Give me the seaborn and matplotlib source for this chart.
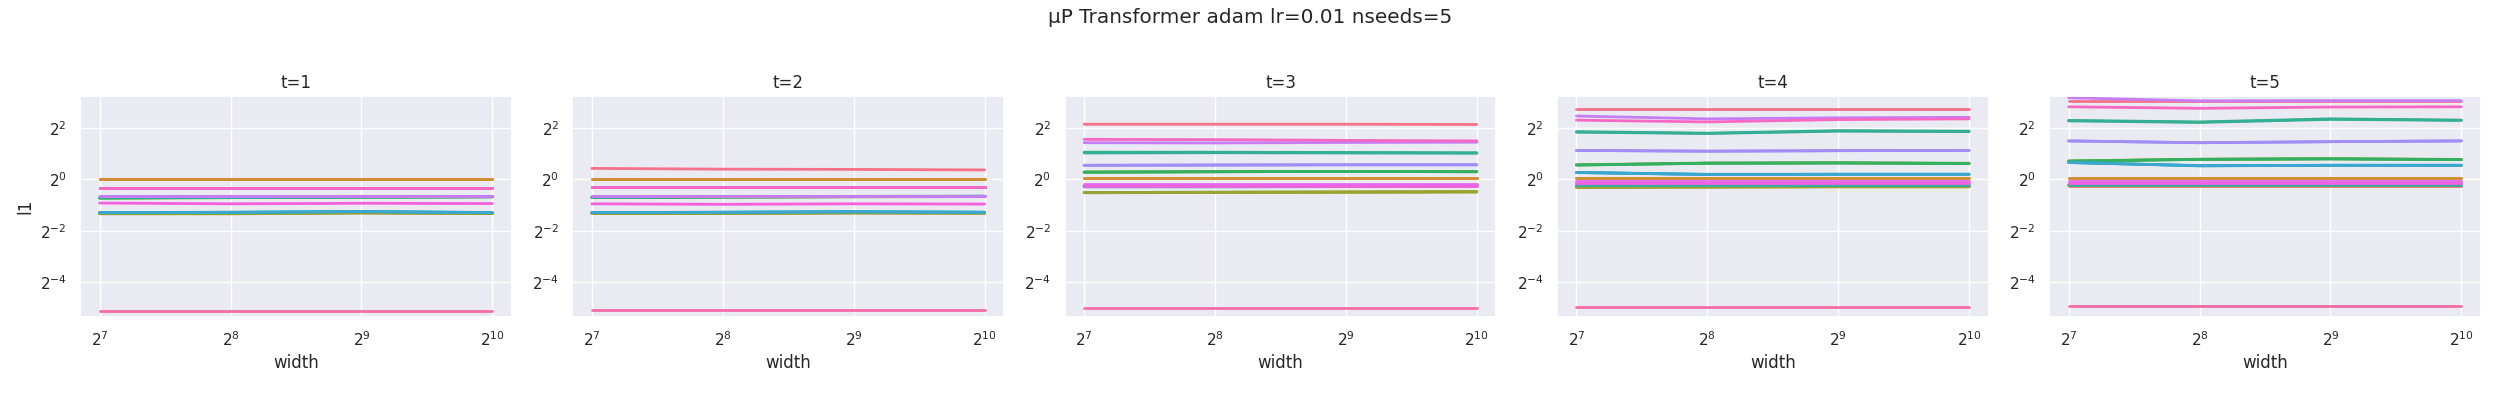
import numpy as np
import pandas as pd
import matplotlib
matplotlib.use("Agg")
import matplotlib.pyplot as plt
import seaborn as sns

# ---------------- data (log2 of l1, per t: values at widths 128,256,512,1024) -------------
widths = [128, 256, 512, 1024]
steps = [1, 2, 3, 4, 5]
suptitle = "μP Transformer adam lr=0.01 nseeds=5"

encoder = [[0.00, 0.00, 0.00, 0.00], [0.43, 0.40, 0.39, 0.37], [2.15, 2.15, 2.15, 2.14],
           [2.74, 2.74, 2.74, 2.74], [3.05, 3.05, 3.05, 3.05]]
pos_dropout = [[-0.33, -0.33, -0.33, -0.33], [-0.31, -0.31, -0.31, -0.31], [-0.26, -0.26, -0.25, -0.25],
               [-0.25, -0.25, -0.25, -0.25], [-0.26, -0.26, -0.26, -0.26]]
pos_sum = [[0.00, 0.00, 0.00, 0.00], [0.00, 0.00, 0.00, 0.00], [0.04, 0.04, 0.04, 0.04],
           [0.05, 0.05, 0.05, 0.05], [0.05, 0.05, 0.05, 0.05]]
pos_encoder = [[0.00, 0.00, 0.00, 0.00], [0.00, 0.00, 0.00, 0.00], [0.04, 0.04, 0.04, 0.04],
               [0.05, 0.05, 0.05, 0.05], [0.05, 0.05, 0.05, 0.05]]
l0_self_attn = [[-1.34, -1.34, -1.31, -1.33], [-1.33, -1.33, -1.31, -1.32], [-0.52, -0.51, -0.50, -0.49],
                [-0.31, -0.30, -0.29, -0.29], [-0.23, -0.23, -0.22, -0.22]]
l0_dropout1 = [[-1.33, -1.33, -1.30, -1.32], [-1.32, -1.32, -1.30, -1.31], [-0.51, -0.50, -0.49, -0.48],
               [-0.30, -0.29, -0.28, -0.28], [-0.22, -0.22, -0.21, -0.21]]
l0_norm1 = [[-1.33, -1.33, -1.30, -1.32], [-1.32, -1.32, -1.30, -1.31], [-0.51, -0.50, -0.49, -0.48],
            [-0.30, -0.29, -0.28, -0.28], [-0.22, -0.22, -0.21, -0.21]]
l0_linear1 = [[-0.73, -0.71, -0.69, -0.68], [-0.71, -0.69, -0.68, -0.67], [0.29, 0.30, 0.31, 0.30],
              [0.57, 0.64, 0.65, 0.63], [0.72, 0.79, 0.81, 0.78]]
l0_dropout = [[-0.72, -0.70, -0.68, -0.67], [-0.70, -0.68, -0.67, -0.66], [0.28, 0.30, 0.31, 0.30],
              [0.56, 0.63, 0.64, 0.62], [0.71, 0.78, 0.80, 0.77]]
l0_linear2 = [[-0.72, -0.70, -0.68, -0.67], [-0.70, -0.68, -0.67, -0.66], [0.28, 0.30, 0.31, 0.30],
              [0.56, 0.63, 0.64, 0.62], [0.71, 0.78, 0.80, 0.77]]
l0_dropout2 = [[-0.72, -0.71, -0.69, -0.68], [-0.70, -0.68, -0.67, -0.66], [1.06, 1.06, 1.05, 1.04],
               [1.86, 1.80, 1.90, 1.88], [2.30, 2.24, 2.36, 2.31]]
l0_output = [[-0.71, -0.70, -0.68, -0.67], [-0.69, -0.67, -0.66, -0.65], [1.03, 1.04, 1.03, 1.02],
             [1.84, 1.79, 1.88, 1.86], [2.28, 2.22, 2.34, 2.30]]
l0_norm2 = [[-0.33, -0.33, -0.33, -0.33], [-0.31, -0.31, -0.31, -0.31], [-0.22, -0.22, -0.22, -0.22],
            [-0.20, -0.20, -0.20, -0.20], [-0.20, -0.20, -0.20, -0.20]]
l1_self_attn = [[-1.30, -1.29, -1.26, -1.30], [-1.29, -1.28, -1.26, -1.28], [-0.29, -0.29, -0.28, -0.28],
                [0.27, 0.20, 0.20, 0.20], [0.66, 0.54, 0.55, 0.55]]
l1_dropout1 = [[-1.29, -1.28, -1.25, -1.29], [-1.29, -1.28, -1.26, -1.28], [-0.28, -0.28, -0.27, -0.27],
               [0.27, 0.19, 0.20, 0.20], [0.66, 0.53, 0.55, 0.55]]
l1_attn_out = [[-1.29, -1.28, -1.25, -1.29], [-1.29, -1.28, -1.26, -1.28], [-0.28, -0.28, -0.27, -0.27],
               [0.27, 0.19, 0.20, 0.20], [0.66, 0.53, 0.55, 0.55]]
l1_norm1 = [[-0.33, -0.33, -0.33, -0.33], [-0.31, -0.31, -0.31, -0.31], [-0.20, -0.20, -0.20, -0.20],
            [-0.12, -0.12, -0.12, -0.12], [-0.12, -0.12, -0.12, -0.12]]
l1_linear1 = [[-0.64, -0.64, -0.64, -0.64], [-0.64, -0.64, -0.64, -0.64], [0.55, 0.56, 0.57, 0.57],
              [1.13, 1.10, 1.12, 1.13], [1.50, 1.43, 1.47, 1.50]]
l1_dropout = [[-0.64, -0.64, -0.64, -0.64], [-0.64, -0.64, -0.64, -0.64], [0.55, 0.56, 0.57, 0.57],
              [1.13, 1.10, 1.12, 1.13], [1.50, 1.43, 1.47, 1.50]]
l1_linear2 = [[-0.64, -0.64, -0.64, -0.64], [-0.64, -0.64, -0.64, -0.64], [1.43, 1.42, 1.44, 1.45],
              [2.47, 2.36, 2.40, 2.42], [3.18, 3.06, 3.07, 3.07]]
l1_norm2 = [[-0.33, -0.33, -0.33, -0.33], [-0.31, -0.31, -0.31, -0.31], [-0.18, -0.18, -0.18, -0.18],
            [-0.08, -0.08, -0.08, -0.08], [-0.08, -0.08, -0.08, -0.08]]
transformer_encoder = [[-0.92, -0.95, -0.93, -0.94], [-0.95, -0.97, -0.95, -0.96], [-0.24, -0.24, -0.24, -0.24],
                       [-0.15, -0.15, -0.15, -0.15], [-0.15, -0.15, -0.15, -0.15]]
l1_output = [[-0.33, -0.33, -0.33, -0.33], [-0.31, -0.31, -0.31, -0.31], [1.56, 1.55, 1.52, 1.50],
             [2.31, 2.24, 2.33, 2.36], [2.83, 2.77, 2.82, 2.83]]
decoder = [[-5.12, -5.12, -5.12, -5.12], [-5.10, -5.10, -5.10, -5.10], [-5.00, -5.00, -5.00, -5.00],
           [-4.97, -4.97, -4.97, -4.97], [-4.95, -4.95, -4.95, -4.95]]

module_names = ["encoder", "pos_encoder.dropout", "pos_encoder.sum", "pos_encoder",
                "layers.0.self_attn", "layers.0.dropout1", "layers.0.norm1", "layers.0.linear1",
                "layers.0.dropout", "layers.0.linear2", "layers.0.dropout2", "layers.0",
                "layers.0.norm2", "layers.1.self_attn", "layers.1.dropout1", "layers.1.attn_out",
                "layers.1.norm1", "layers.1.linear1", "layers.1.dropout", "layers.1.linear2",
                "layers.1.norm2", "transformer_encoder", "layers.1", "decoder"]
module_values = [encoder, pos_dropout, pos_sum, pos_encoder,
                 l0_self_attn, l0_dropout1, l0_norm1, l0_linear1,
                 l0_dropout, l0_linear2, l0_dropout2, l0_output,
                 l0_norm2, l1_self_attn, l1_dropout1, l1_attn_out,
                 l1_norm1, l1_linear1, l1_dropout, l1_linear2,
                 l1_norm2, transformer_encoder, l1_output, decoder]

y_log2_lim = (-5.36, 3.25)

# ---------------- build dataframe ----------------
rows = []
for name, vals in zip(module_names, module_values):
    for t, tv in zip(steps, vals):
        for w, v in zip(widths, tv):
            rows.append({"module": name, "t": t, "width": w, "l1": 2.0 ** v})
df = pd.DataFrame(rows)

# ---------------- plot ----------------
sns.set_theme()
fig, axes = plt.subplots(1, len(steps), figsize=(25, 4), dpi=100)
palette = sns.color_palette("husl", len(module_names))
for ax, t in zip(axes, steps):
    sns.lineplot(data=df[df.t == t], x="width", y="l1", hue="module", hue_order=module_names,
                 palette=palette, legend=False, ax=ax, linewidth=2.0)
    ax.set_title(f"t={t}")
    ax.set_xscale("log", base=2)
    ax.set_yscale("log", base=2)
    ax.set_ylim(2.0 ** y_log2_lim[0], 2.0 ** y_log2_lim[1])
    if t != 1:
        ax.set_ylabel("")
fig.suptitle(suptitle)
fig.subplots_adjust(left=0.032, right=0.9924, bottom=0.2075, top=0.76, wspace=0.1395)
fig.savefig("out.png", dpi=100)
